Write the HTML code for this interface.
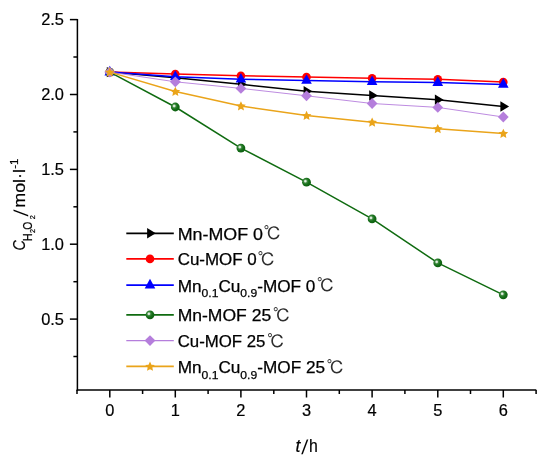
<!DOCTYPE html>
<html lang="en">
<head>
<meta charset="utf-8">
<title>H2O2 concentration vs time</title>
<style>
html,body{margin:0;padding:0;background:#fff;}
body{width:550px;height:465px;overflow:hidden;}
svg{display:block;}
text{font-family:"Liberation Sans","Noto Sans CJK SC",sans-serif;fill:#000;}
.tick{font-size:16.4px;stroke:#000;stroke-width:0.2px;}
.yl text{stroke:#000;stroke-width:0.2px;}
.leg{font-size:16px;stroke:#000;stroke-width:0.25px;}
.deg{font-family:"Liberation Serif","IPAGothic","Noto Sans CJK JP",serif;font-size:18px;fill:#2e2e2e;}
</style>
</head>
<body>
<svg width="550" height="465" viewBox="0 0 550 465">
<defs>
<radialGradient id="gs" cx="0.38" cy="0.39" r="0.62" fx="0.37" fy="0.38">
<stop offset="0" stop-color="#f4faf4"/>
<stop offset="0.16" stop-color="#cfe3cf"/>
<stop offset="0.34" stop-color="#3f8a40"/>
<stop offset="0.6" stop-color="#17701a"/>
<stop offset="1" stop-color="#0d5f10"/>
</radialGradient>
</defs>
<rect width="550" height="465" fill="#fff"/>

<g stroke="#000" stroke-width="1.5" fill="none" stroke-linecap="butt">
<path d="M77.4,18.9 V390.75"/>
<path d="M76.65,390.0 H536.3"/>
<path d="M69.9,19.6 H77.4"/>
<path d="M69.9,94.5 H77.4"/>
<path d="M69.9,169.4 H77.4"/>
<path d="M69.9,244.2 H77.4"/>
<path d="M69.9,319.1 H77.4"/>
<path d="M73.4,57.0 H77.4"/>
<path d="M73.4,131.9 H77.4"/>
<path d="M73.4,206.8 H77.4"/>
<path d="M73.4,281.7 H77.4"/>
<path d="M73.4,356.5 H77.4"/>
<path d="M109.8,390.0 V397.5"/>
<path d="M175.3,390.0 V397.5"/>
<path d="M240.9,390.0 V397.5"/>
<path d="M306.5,390.0 V397.5"/>
<path d="M372.1,390.0 V397.5"/>
<path d="M437.8,390.0 V397.5"/>
<path d="M503.3,390.0 V397.5"/>
<path d="M77.0,390.0 V394.0"/>
<path d="M142.6,390.0 V394.0"/>
<path d="M208.1,390.0 V394.0"/>
<path d="M273.8,390.0 V394.0"/>
<path d="M339.3,390.0 V394.0"/>
<path d="M404.9,390.0 V394.0"/>
<path d="M470.5,390.0 V394.0"/>
<path d="M536.1,390.0 V394.0"/>
</g>
<g class="tick">
<text x="64" y="25.2" text-anchor="end">2.5</text>
<text x="64" y="100.1" text-anchor="end">2.0</text>
<text x="64" y="175.0" text-anchor="end">1.5</text>
<text x="64" y="249.8" text-anchor="end">1.0</text>
<text x="64" y="324.7" text-anchor="end">0.5</text>
<text x="109.8" y="416.3" text-anchor="middle">0</text>
<text x="175.3" y="416.3" text-anchor="middle">1</text>
<text x="240.9" y="416.3" text-anchor="middle">2</text>
<text x="306.5" y="416.3" text-anchor="middle">3</text>
<text x="372.1" y="416.3" text-anchor="middle">4</text>
<text x="437.8" y="416.3" text-anchor="middle">5</text>
<text x="503.3" y="416.3" text-anchor="middle">6</text>
</g>
<path d="M109.8,72.1 L175.3,77.8 L240.9,84.3 L306.5,91.3 L372.1,95.5 L437.8,99.8 L503.3,106.5" fill="none" stroke="#000" stroke-width="1.5" stroke-linejoin="round"/>
<polygon points="106.8,66.9 115.5,72.1 106.8,77.3" fill="#000"/>
<polygon points="172.4,72.6 181.2,77.8 172.4,83.0" fill="#000"/>
<polygon points="238.0,79.1 246.8,84.3 238.0,89.5" fill="#000"/>
<polygon points="303.6,86.1 312.3,91.3 303.6,96.5" fill="#000"/>
<polygon points="369.2,90.3 377.9,95.5 369.2,100.7" fill="#000"/>
<polygon points="434.9,94.6 443.6,99.8 434.9,105.0" fill="#000"/>
<polygon points="500.4,101.3 509.1,106.5 500.4,111.7" fill="#000"/>
<path d="M109.8,72.1 L175.3,74.0 L240.9,75.8 L306.5,77.0 L372.1,78.2 L437.8,79.3 L503.3,82.0" fill="none" stroke="#ff0000" stroke-width="1.5" stroke-linejoin="round"/>
<circle cx="109.8" cy="72.1" r="4.3" fill="#ff0000"/>
<circle cx="175.3" cy="74.0" r="4.3" fill="#ff0000"/>
<circle cx="240.9" cy="75.8" r="4.3" fill="#ff0000"/>
<circle cx="306.5" cy="77.0" r="4.3" fill="#ff0000"/>
<circle cx="372.1" cy="78.2" r="4.3" fill="#ff0000"/>
<circle cx="437.8" cy="79.3" r="4.3" fill="#ff0000"/>
<circle cx="503.3" cy="82.0" r="4.3" fill="#ff0000"/>
<path d="M109.8,72.1 L175.3,76.8 L240.9,79.3 L306.5,80.5 L372.1,81.8 L437.8,82.6 L503.3,84.4" fill="none" stroke="#0000ff" stroke-width="1.5" stroke-linejoin="round"/>
<polygon points="104.5,75.4 115.0,75.4 109.8,65.8" fill="#0000ff"/>
<polygon points="170.0,80.1 180.7,80.1 175.3,70.5" fill="#0000ff"/>
<polygon points="235.6,82.6 246.2,82.6 240.9,73.0" fill="#0000ff"/>
<polygon points="301.2,83.8 311.8,83.8 306.5,74.2" fill="#0000ff"/>
<polygon points="366.8,85.1 377.4,85.1 372.1,75.5" fill="#0000ff"/>
<polygon points="432.4,85.9 443.1,85.9 437.8,76.3" fill="#0000ff"/>
<polygon points="498.0,87.7 508.6,87.7 503.3,78.1" fill="#0000ff"/>
<path d="M109.8,72.1 L175.3,107.0 L240.9,148.1 L306.5,182.2 L372.1,218.9 L437.8,262.9 L503.3,294.8" fill="none" stroke="#0f6b10" stroke-width="1.5" stroke-linejoin="round"/>
<circle cx="109.8" cy="72.1" r="4.4" fill="url(#gs)"/>
<circle cx="175.3" cy="107.0" r="4.4" fill="url(#gs)"/>
<circle cx="240.9" cy="148.1" r="4.4" fill="url(#gs)"/>
<circle cx="306.5" cy="182.2" r="4.4" fill="url(#gs)"/>
<circle cx="372.1" cy="218.9" r="4.4" fill="url(#gs)"/>
<circle cx="437.8" cy="262.9" r="4.4" fill="url(#gs)"/>
<circle cx="503.3" cy="294.8" r="4.4" fill="url(#gs)"/>
<path d="M109.8,72.1 L175.3,81.8 L240.9,88.4 L306.5,95.8 L372.1,103.5 L437.8,107.4 L503.3,117.0" fill="none" stroke="#b57edc" stroke-width="0.9" stroke-linejoin="round"/>
<polygon points="104.3,72.1 109.8,66.7 115.2,72.1 109.8,77.5" fill="#b57edc"/>
<polygon points="169.9,81.8 175.3,76.4 180.8,81.8 175.3,87.2" fill="#b57edc"/>
<polygon points="235.5,88.4 240.9,83.0 246.3,88.4 240.9,93.8" fill="#b57edc"/>
<polygon points="301.1,95.8 306.5,90.4 311.9,95.8 306.5,101.2" fill="#b57edc"/>
<polygon points="366.8,103.5 372.1,98.1 377.5,103.5 372.1,108.9" fill="#b57edc"/>
<polygon points="432.4,107.4 437.8,102.0 443.1,107.4 437.8,112.8" fill="#b57edc"/>
<polygon points="497.9,117.0 503.3,111.6 508.7,117.0 503.3,122.4" fill="#b57edc"/>
<path d="M109.8,72.1 L175.3,91.5 L240.9,106.0 L306.5,115.6 L372.1,122.2 L437.8,128.7 L503.3,133.5" fill="none" stroke="#eaa41a" stroke-width="1.5" stroke-linejoin="round"/>
<polygon points="109.75,67.30 111.19,70.42 114.60,70.82 112.08,73.16 112.75,76.53 109.75,74.85 106.75,76.53 107.42,73.16 104.90,70.82 108.31,70.42" fill="#eaa41a"/>
<polygon points="175.35,86.70 176.79,89.82 180.20,90.22 177.68,92.56 178.35,95.93 175.35,94.25 172.35,95.93 173.02,92.56 170.50,90.22 173.91,89.82" fill="#eaa41a"/>
<polygon points="240.95,101.20 242.39,104.32 245.80,104.72 243.28,107.06 243.95,110.43 240.95,108.75 237.95,110.43 238.62,107.06 236.10,104.72 239.51,104.32" fill="#eaa41a"/>
<polygon points="306.55,110.80 307.99,113.92 311.40,114.32 308.88,116.66 309.55,120.03 306.55,118.35 303.55,120.03 304.22,116.66 301.70,114.32 305.11,113.92" fill="#eaa41a"/>
<polygon points="372.15,117.40 373.59,120.52 377.00,120.92 374.48,123.26 375.15,126.63 372.15,124.95 369.15,126.63 369.82,123.26 367.30,120.92 370.71,120.52" fill="#eaa41a"/>
<polygon points="437.75,123.90 439.19,127.02 442.60,127.42 440.08,129.76 440.75,133.13 437.75,131.45 434.75,133.13 435.42,129.76 432.90,127.42 436.31,127.02" fill="#eaa41a"/>
<polygon points="503.35,128.70 504.79,131.82 508.20,132.22 505.68,134.56 506.35,137.93 503.35,136.25 500.35,137.93 501.02,134.56 498.50,132.22 501.91,131.82" fill="#eaa41a"/>
<path d="M126.3,233.3 H173.8" stroke="#000" stroke-width="1.65"/>
<polygon points="147.1,228.1 155.8,233.3 147.1,238.5" fill="#000"/>
<text class="leg" x="177.7" y="239.8" textLength="85.3" lengthAdjust="spacingAndGlyphs">Mn-MOF 0</text>
<text class="deg" x="263.5" y="240.4">℃</text>
<path d="M126.3,258.9 H173.8" stroke="#ff0000" stroke-width="1.65"/>
<circle cx="150.0" cy="258.9" r="4.3" fill="#ff0000"/>
<text class="leg" x="177.7" y="265.4" textLength="79.1" lengthAdjust="spacingAndGlyphs">Cu-MOF 0</text>
<text class="deg" x="257.5" y="266.0">℃</text>
<path d="M126.3,285.1 H173.8" stroke="#0000ff" stroke-width="1.65"/>
<polygon points="144.7,288.4 155.3,288.4 150.0,278.8" fill="#0000ff"/>
<text class="leg" x="177.7" y="291.6" textLength="137.7" lengthAdjust="spacingAndGlyphs">Mn<tspan font-size="11.3" dy="5.7">0.1</tspan><tspan dy="-5.7">Cu</tspan><tspan font-size="11.3" dy="5.7">0.9</tspan><tspan dy="-5.7">-MOF 0</tspan></text>
<text class="deg" x="316.7" y="292.2">℃</text>
<path d="M126.3,314.8 H173.8" stroke="#0f6b10" stroke-width="1.65"/>
<circle cx="150.0" cy="314.8" r="4.4" fill="url(#gs)"/>
<text class="leg" x="177.7" y="321.3" textLength="93.5" lengthAdjust="spacingAndGlyphs">Mn-MOF 25</text>
<text class="deg" x="272.8" y="321.9">℃</text>
<path d="M126.3,340.6 H173.8" stroke="#b57edc" stroke-width="1.05"/>
<polygon points="144.6,340.6 150.0,335.2 155.4,340.6 150.0,346.0" fill="#b57edc"/>
<text class="leg" x="177.7" y="347.1" textLength="87.7" lengthAdjust="spacingAndGlyphs">Cu-MOF 25</text>
<text class="deg" x="267.0" y="347.7">℃</text>
<path d="M126.3,366.4 H173.8" stroke="#eaa41a" stroke-width="1.65"/>
<polygon points="150.00,361.60 151.44,364.72 154.85,365.12 152.33,367.46 153.00,370.83 150.00,369.15 147.00,370.83 147.67,367.46 145.15,365.12 148.56,364.72" fill="#eaa41a"/>
<text class="leg" x="177.7" y="372.9" textLength="147.3" lengthAdjust="spacingAndGlyphs">Mn<tspan font-size="11.3" dy="5.7">0.1</tspan><tspan dy="-5.7">Cu</tspan><tspan font-size="11.3" dy="5.7">0.9</tspan><tspan dy="-5.7">-MOF 25</tspan></text>
<text class="deg" x="326.5" y="373.5">℃</text>
<g class="yl"><text x="295.5" y="451.9" font-size="17.5" font-style="italic">t</text><text transform="translate(301.3,454.4) skewX(-6)" font-size="20" style="stroke:none">/</text><text x="309.0" y="451.9" font-size="17.5" textLength="8.8" lengthAdjust="spacingAndGlyphs">h</text></g>
<g transform="translate(25.4,249.8) rotate(-90)" class="yl"><text x="-0.6" y="0" font-size="16" font-style="italic" textLength="10.3" lengthAdjust="spacingAndGlyphs">C</text><text x="8.6" y="6.5" font-size="12" textLength="8.0" lengthAdjust="spacingAndGlyphs">H</text><text x="16.8" y="9.6" font-size="7.6" textLength="4.0" lengthAdjust="spacingAndGlyphs">2</text><text x="20.1" y="6.3" font-size="12" textLength="8.0" lengthAdjust="spacingAndGlyphs">O</text><text x="30.5" y="9.6" font-size="7.6" textLength="4.0" lengthAdjust="spacingAndGlyphs">2</text><text x="33.6" y="2.6" font-size="20" style="stroke:none" transform="skewX(-6)">/</text><text x="42.1" y="0" font-size="16" textLength="38.7" lengthAdjust="spacingAndGlyphs">mol·l</text><text x="81.0" y="-7.7" font-size="10.4" textLength="10.2" lengthAdjust="spacingAndGlyphs">-1</text></g>
</svg>
</body>
</html>
